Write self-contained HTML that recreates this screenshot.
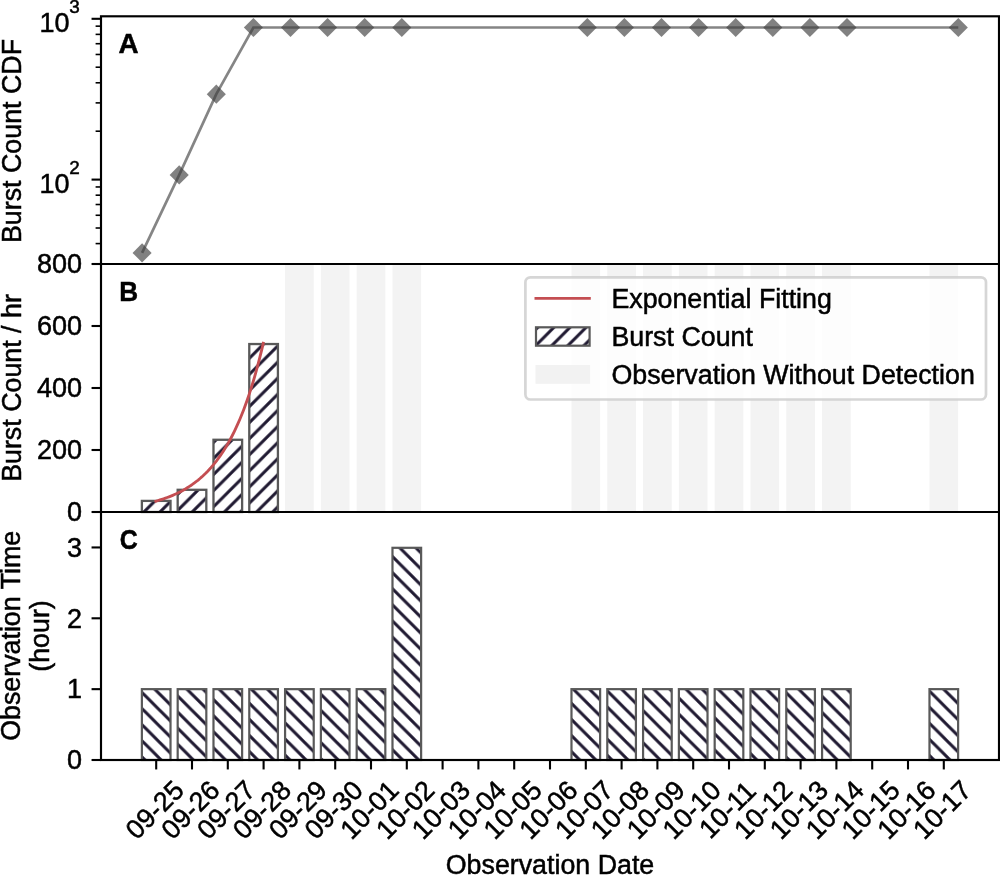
<!DOCTYPE html>
<html lang="en"><head><meta charset="utf-8"><title>Burst observation chart</title>
<style>html,body{margin:0;padding:0;background:#fff}body{width:1000px;height:875px;overflow:hidden}svg{display:block}</style>
</head><body>
<svg width="1000" height="875" viewBox="0 0 1000 875" font-family="&quot;Liberation Sans&quot;, sans-serif" font-size="26.8" fill="#000">
<style>text{stroke:#000;stroke-width:0.5px}</style>
<defs><pattern id="hf" patternUnits="userSpaceOnUse" width="16.1" height="16.1" x="0" y="11.9"><rect width="16.1" height="16.1" fill="#fff"/><path d="M-16.1,16.1 L16.1,-16.1 M-16.1,32.2 L32.2,-16.1 M0,32.2 L32.2,0" stroke="#201a32" stroke-width="3.05" fill="none"/></pattern><pattern id="hb" patternUnits="userSpaceOnUse" width="16.1" height="16.1" x="0" y="3.1"><rect width="16.1" height="16.1" fill="#fff"/><path d="M-16.1,-16.1 L32.2,32.2 M0,-16.1 L32.2,16.1 M-16.1,0 L16.1,32.2" stroke="#201a32" stroke-width="3.05" fill="none"/></pattern></defs>
<rect width="1000" height="875" fill="#fff"/>
<rect x="285.08" y="264" width="28.64" height="248" fill="#f3f3f3"/>
<rect x="320.88" y="264" width="28.64" height="248" fill="#f3f3f3"/>
<rect x="356.68" y="264" width="28.64" height="248" fill="#f3f3f3"/>
<rect x="392.48" y="264" width="28.64" height="248" fill="#f3f3f3"/>
<rect x="571.48" y="264" width="28.64" height="248" fill="#f3f3f3"/>
<rect x="607.28" y="264" width="28.64" height="248" fill="#f3f3f3"/>
<rect x="643.08" y="264" width="28.64" height="248" fill="#f3f3f3"/>
<rect x="678.88" y="264" width="28.64" height="248" fill="#f3f3f3"/>
<rect x="714.68" y="264" width="28.64" height="248" fill="#f3f3f3"/>
<rect x="750.48" y="264" width="28.64" height="248" fill="#f3f3f3"/>
<rect x="786.28" y="264" width="28.64" height="248" fill="#f3f3f3"/>
<rect x="822.08" y="264" width="28.64" height="248" fill="#f3f3f3"/>
<rect x="929.48" y="264" width="28.64" height="248" fill="#f3f3f3"/>
<rect x="141.88" y="500.90" width="28.64" height="11.10" fill="url(#hf)" stroke="#595959" stroke-width="2.3"/>
<rect x="177.68" y="489.80" width="28.64" height="22.20" fill="url(#hf)" stroke="#595959" stroke-width="2.3"/>
<rect x="213.48" y="439.77" width="28.64" height="72.23" fill="url(#hf)" stroke="#595959" stroke-width="2.3"/>
<rect x="249.28" y="344.04" width="28.64" height="167.96" fill="url(#hf)" stroke="#595959" stroke-width="2.3"/>
<polyline points="154.52,501.52 156.34,501.02 158.15,500.50 159.97,499.95 161.79,499.38 163.61,498.78 165.43,498.15 167.24,497.49 169.06,496.80 170.88,496.08 172.70,495.32 174.52,494.53 176.33,493.70 178.15,492.83 179.97,491.91 181.79,490.96 183.61,489.96 185.42,488.91 187.24,487.81 189.06,486.66 190.88,485.46 192.70,484.20 194.51,482.87 196.33,481.49 198.15,480.04 199.97,478.52 201.79,476.93 203.60,475.26 205.42,473.51 207.24,471.68 209.06,469.76 210.88,467.76 212.69,465.65 214.51,463.45 216.33,461.14 218.15,458.72 219.97,456.19 221.79,453.54 223.60,450.76 225.42,447.84 227.24,444.79 229.06,441.60 230.88,438.25 232.69,434.74 234.51,431.07 236.33,427.22 238.15,423.19 239.97,418.97 241.78,414.55 243.60,409.91 245.42,405.06 247.24,399.97 249.06,394.65 250.87,389.07 252.69,383.22 254.51,377.10 256.33,370.68 258.15,363.97 259.96,356.93 261.78,349.55 263.60,341.83" fill="none" stroke="#c44e52" stroke-width="2.85" stroke-linecap="butt"/>
<rect x="141.88" y="689.15" width="28.64" height="70.85" fill="url(#hb)" stroke="#595959" stroke-width="2.2"/>
<rect x="177.68" y="689.15" width="28.64" height="70.85" fill="url(#hb)" stroke="#595959" stroke-width="2.2"/>
<rect x="213.48" y="689.15" width="28.64" height="70.85" fill="url(#hb)" stroke="#595959" stroke-width="2.2"/>
<rect x="249.28" y="689.15" width="28.64" height="70.85" fill="url(#hb)" stroke="#595959" stroke-width="2.2"/>
<rect x="285.08" y="689.15" width="28.64" height="70.85" fill="url(#hb)" stroke="#595959" stroke-width="2.2"/>
<rect x="320.88" y="689.15" width="28.64" height="70.85" fill="url(#hb)" stroke="#595959" stroke-width="2.2"/>
<rect x="356.68" y="689.15" width="28.64" height="70.85" fill="url(#hb)" stroke="#595959" stroke-width="2.2"/>
<rect x="392.48" y="547.80" width="28.64" height="212.20" fill="url(#hb)" stroke="#595959" stroke-width="2.2"/>
<rect x="571.48" y="689.15" width="28.64" height="70.85" fill="url(#hb)" stroke="#595959" stroke-width="2.2"/>
<rect x="607.28" y="689.15" width="28.64" height="70.85" fill="url(#hb)" stroke="#595959" stroke-width="2.2"/>
<rect x="643.08" y="689.15" width="28.64" height="70.85" fill="url(#hb)" stroke="#595959" stroke-width="2.2"/>
<rect x="678.88" y="689.15" width="28.64" height="70.85" fill="url(#hb)" stroke="#595959" stroke-width="2.2"/>
<rect x="714.68" y="689.15" width="28.64" height="70.85" fill="url(#hb)" stroke="#595959" stroke-width="2.2"/>
<rect x="750.48" y="689.15" width="28.64" height="70.85" fill="url(#hb)" stroke="#595959" stroke-width="2.2"/>
<rect x="786.28" y="689.15" width="28.64" height="70.85" fill="url(#hb)" stroke="#595959" stroke-width="2.2"/>
<rect x="822.08" y="689.15" width="28.64" height="70.85" fill="url(#hb)" stroke="#595959" stroke-width="2.2"/>
<rect x="929.48" y="689.15" width="28.64" height="70.85" fill="url(#hb)" stroke="#595959" stroke-width="2.2"/>
<polyline points="142.10,252.91 179.20,174.88 216.30,94.14 253.40,27.49 290.50,27.49 327.60,27.49 364.70,27.49 401.80,27.49 587.30,27.49 624.40,27.49 661.50,27.49 698.60,27.49 735.70,27.49 772.80,27.49 809.90,27.49 847.00,27.49 958.30,27.49" fill="none" stroke="#404040" stroke-opacity="0.64" stroke-width="2.7"/>
<path d="M142.10,243.36 L151.65,252.91 L142.10,262.46 L132.55,252.91 Z" fill="#404040" fill-opacity="0.66"/>
<path d="M179.20,165.33 L188.75,174.88 L179.20,184.43 L169.65,174.88 Z" fill="#404040" fill-opacity="0.66"/>
<path d="M216.30,84.59 L225.85,94.14 L216.30,103.69 L206.75,94.14 Z" fill="#404040" fill-opacity="0.66"/>
<path d="M253.40,17.94 L262.95,27.49 L253.40,37.04 L243.85,27.49 Z" fill="#404040" fill-opacity="0.66"/>
<path d="M290.50,17.94 L300.05,27.49 L290.50,37.04 L280.95,27.49 Z" fill="#404040" fill-opacity="0.66"/>
<path d="M327.60,17.94 L337.15,27.49 L327.60,37.04 L318.05,27.49 Z" fill="#404040" fill-opacity="0.66"/>
<path d="M364.70,17.94 L374.25,27.49 L364.70,37.04 L355.15,27.49 Z" fill="#404040" fill-opacity="0.66"/>
<path d="M401.80,17.94 L411.35,27.49 L401.80,37.04 L392.25,27.49 Z" fill="#404040" fill-opacity="0.66"/>
<path d="M587.30,17.94 L596.85,27.49 L587.30,37.04 L577.75,27.49 Z" fill="#404040" fill-opacity="0.66"/>
<path d="M624.40,17.94 L633.95,27.49 L624.40,37.04 L614.85,27.49 Z" fill="#404040" fill-opacity="0.66"/>
<path d="M661.50,17.94 L671.05,27.49 L661.50,37.04 L651.95,27.49 Z" fill="#404040" fill-opacity="0.66"/>
<path d="M698.60,17.94 L708.15,27.49 L698.60,37.04 L689.05,27.49 Z" fill="#404040" fill-opacity="0.66"/>
<path d="M735.70,17.94 L745.25,27.49 L735.70,37.04 L726.15,27.49 Z" fill="#404040" fill-opacity="0.66"/>
<path d="M772.80,17.94 L782.35,27.49 L772.80,37.04 L763.25,27.49 Z" fill="#404040" fill-opacity="0.66"/>
<path d="M809.90,17.94 L819.45,27.49 L809.90,37.04 L800.35,27.49 Z" fill="#404040" fill-opacity="0.66"/>
<path d="M847.00,17.94 L856.55,27.49 L847.00,37.04 L837.45,27.49 Z" fill="#404040" fill-opacity="0.66"/>
<path d="M958.30,17.94 L967.85,27.49 L958.30,37.04 L948.75,27.49 Z" fill="#404040" fill-opacity="0.66"/>
<g stroke="#000" stroke-width="2.16" fill="none" stroke-linecap="square">
<rect x="101" y="16.3" width="898" height="743.7"/>
<line x1="101" y1="264" x2="999" y2="264"/>
<line x1="101" y1="512" x2="999" y2="512"/>
</g>
<g stroke="#000" stroke-width="2.1" fill="none" stroke-linecap="butt">
<line x1="91.55" y1="18.80" x2="101" y2="18.80"/>
<line x1="91.55" y1="179.60" x2="101" y2="179.60"/>
<line x1="91.55" y1="512.00" x2="101" y2="512.00"/>
<line x1="91.55" y1="450.00" x2="101" y2="450.00"/>
<line x1="91.55" y1="388.00" x2="101" y2="388.00"/>
<line x1="91.55" y1="326.00" x2="101" y2="326.00"/>
<line x1="91.55" y1="264.00" x2="101" y2="264.00"/>
<line x1="91.55" y1="760.00" x2="101" y2="760.00"/>
<line x1="91.55" y1="689.15" x2="101" y2="689.15"/>
<line x1="91.55" y1="618.30" x2="101" y2="618.30"/>
<line x1="91.55" y1="547.45" x2="101" y2="547.45"/>
<line x1="156.20" y1="760" x2="156.20" y2="769.45"/>
<line x1="192.00" y1="760" x2="192.00" y2="769.45"/>
<line x1="227.80" y1="760" x2="227.80" y2="769.45"/>
<line x1="263.60" y1="760" x2="263.60" y2="769.45"/>
<line x1="299.40" y1="760" x2="299.40" y2="769.45"/>
<line x1="335.20" y1="760" x2="335.20" y2="769.45"/>
<line x1="371.00" y1="760" x2="371.00" y2="769.45"/>
<line x1="406.80" y1="760" x2="406.80" y2="769.45"/>
<line x1="442.60" y1="760" x2="442.60" y2="769.45"/>
<line x1="478.40" y1="760" x2="478.40" y2="769.45"/>
<line x1="514.20" y1="760" x2="514.20" y2="769.45"/>
<line x1="550.00" y1="760" x2="550.00" y2="769.45"/>
<line x1="585.80" y1="760" x2="585.80" y2="769.45"/>
<line x1="621.60" y1="760" x2="621.60" y2="769.45"/>
<line x1="657.40" y1="760" x2="657.40" y2="769.45"/>
<line x1="693.20" y1="760" x2="693.20" y2="769.45"/>
<line x1="729.00" y1="760" x2="729.00" y2="769.45"/>
<line x1="764.80" y1="760" x2="764.80" y2="769.45"/>
<line x1="800.60" y1="760" x2="800.60" y2="769.45"/>
<line x1="836.40" y1="760" x2="836.40" y2="769.45"/>
<line x1="872.20" y1="760" x2="872.20" y2="769.45"/>
<line x1="908.00" y1="760" x2="908.00" y2="769.45"/>
<line x1="943.80" y1="760" x2="943.80" y2="769.45"/>
</g>
<g stroke="#000" stroke-width="1.6" fill="none">
<line x1="95.6" y1="26.16" x2="101" y2="26.16"/>
<line x1="95.6" y1="34.38" x2="101" y2="34.38"/>
<line x1="95.6" y1="43.71" x2="101" y2="43.71"/>
<line x1="95.6" y1="54.47" x2="101" y2="54.47"/>
<line x1="95.6" y1="67.21" x2="101" y2="67.21"/>
<line x1="95.6" y1="82.79" x2="101" y2="82.79"/>
<line x1="95.6" y1="102.88" x2="101" y2="102.88"/>
<line x1="95.6" y1="131.19" x2="101" y2="131.19"/>
<line x1="95.6" y1="186.96" x2="101" y2="186.96"/>
<line x1="95.6" y1="195.18" x2="101" y2="195.18"/>
<line x1="95.6" y1="204.51" x2="101" y2="204.51"/>
<line x1="95.6" y1="215.27" x2="101" y2="215.27"/>
<line x1="95.6" y1="228.01" x2="101" y2="228.01"/>
<line x1="95.6" y1="243.59" x2="101" y2="243.59"/>
</g>
<g text-anchor="end" font-size="27.0">
<text x="82.1" y="521.20">0</text>
<text x="82.1" y="459.20">200</text>
<text x="82.1" y="397.20">400</text>
<text x="82.1" y="335.20">600</text>
<text x="82.1" y="273.20">800</text>
<text x="82.1" y="769.20">0</text>
<text x="82.1" y="698.35">1</text>
<text x="82.1" y="627.50">2</text>
<text x="82.1" y="556.65">3</text>
<text x="69.6" y="32.20">10</text>
<text x="69.2" y="13.40" text-anchor="start" font-size="18.90">3</text>
<text x="69.6" y="193.00">10</text>
<text x="69.2" y="174.20" text-anchor="start" font-size="18.90">2</text>
</g>
<text transform="translate(154.40,809.5) rotate(-45)" text-anchor="middle" y="9.5" font-size="27.0">09-25</text>
<text transform="translate(190.20,809.5) rotate(-45)" text-anchor="middle" y="9.5" font-size="27.0">09-26</text>
<text transform="translate(226.00,809.5) rotate(-45)" text-anchor="middle" y="9.5" font-size="27.0">09-27</text>
<text transform="translate(261.80,809.5) rotate(-45)" text-anchor="middle" y="9.5" font-size="27.0">09-28</text>
<text transform="translate(297.60,809.5) rotate(-45)" text-anchor="middle" y="9.5" font-size="27.0">09-29</text>
<text transform="translate(333.40,809.5) rotate(-45)" text-anchor="middle" y="9.5" font-size="27.0">09-30</text>
<text transform="translate(369.20,809.5) rotate(-45)" text-anchor="middle" y="9.5" font-size="27.0">10-01</text>
<text transform="translate(405.00,809.5) rotate(-45)" text-anchor="middle" y="9.5" font-size="27.0">10-02</text>
<text transform="translate(440.80,809.5) rotate(-45)" text-anchor="middle" y="9.5" font-size="27.0">10-03</text>
<text transform="translate(476.60,809.5) rotate(-45)" text-anchor="middle" y="9.5" font-size="27.0">10-04</text>
<text transform="translate(512.40,809.5) rotate(-45)" text-anchor="middle" y="9.5" font-size="27.0">10-05</text>
<text transform="translate(548.20,809.5) rotate(-45)" text-anchor="middle" y="9.5" font-size="27.0">10-06</text>
<text transform="translate(584.00,809.5) rotate(-45)" text-anchor="middle" y="9.5" font-size="27.0">10-07</text>
<text transform="translate(619.80,809.5) rotate(-45)" text-anchor="middle" y="9.5" font-size="27.0">10-08</text>
<text transform="translate(655.60,809.5) rotate(-45)" text-anchor="middle" y="9.5" font-size="27.0">10-09</text>
<text transform="translate(691.40,809.5) rotate(-45)" text-anchor="middle" y="9.5" font-size="27.0">10-10</text>
<text transform="translate(727.20,809.5) rotate(-45)" text-anchor="middle" y="9.5" font-size="27.0">10-11</text>
<text transform="translate(763.00,809.5) rotate(-45)" text-anchor="middle" y="9.5" font-size="27.0">10-12</text>
<text transform="translate(798.80,809.5) rotate(-45)" text-anchor="middle" y="9.5" font-size="27.0">10-13</text>
<text transform="translate(834.60,809.5) rotate(-45)" text-anchor="middle" y="9.5" font-size="27.0">10-14</text>
<text transform="translate(870.40,809.5) rotate(-45)" text-anchor="middle" y="9.5" font-size="27.0">10-15</text>
<text transform="translate(906.20,809.5) rotate(-45)" text-anchor="middle" y="9.5" font-size="27.0">10-16</text>
<text transform="translate(942.00,809.5) rotate(-45)" text-anchor="middle" y="9.5" font-size="27.0">10-17</text>
<text x="550.0" y="874" text-anchor="middle">Observation Date</text>
<text transform="translate(20.6,141.0) rotate(-90)" text-anchor="middle">Burst Count CDF</text>
<text transform="translate(20.7,388.0) rotate(-90)" text-anchor="middle">Burst Count / hr</text>
<text transform="translate(20.0,635.8) rotate(-90)" text-anchor="middle">Observation Time</text>
<text transform="translate(49.2,636.0) rotate(-90)" text-anchor="middle">(hour)</text>
<text transform="translate(118.6,53.4) scale(1.0,1)" font-weight="bold" font-size="27.8">A</text>
<text transform="translate(119.2,301.2) scale(0.94,1)" font-weight="bold" font-size="27.8">B</text>
<text transform="translate(119.8,548.9) scale(0.895,1)" font-weight="bold" font-size="27.8">C</text>
<rect x="525.4" y="277.3" width="460.6" height="122.2" rx="5" fill="#fff" fill-opacity="0.8" stroke="#ccc" stroke-opacity="0.8" stroke-width="2.7"/>
<line x1="534.5" y1="298.3" x2="590.8" y2="298.3" stroke="#c44e52" stroke-width="2.85"/>
<rect x="536" y="327.3" width="53.6" height="18.4" fill="url(#hf)" stroke="#595959" stroke-width="2.2"/>
<rect x="535.5" y="365" width="54.6" height="18.8" fill="#f2f2f2"/>
<text x="611.4" y="307.90">Exponential Fitting</text>
<text x="611.4" y="345.80">Burst Count</text>
<text x="611.4" y="383.70">Observation Without Detection</text>
</svg>
</body></html>
